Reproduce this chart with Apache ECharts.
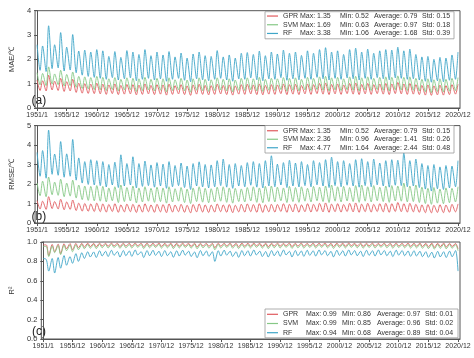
<!DOCTYPE html>
<html><head><meta charset="utf-8">
<script src="https://cdn.jsdelivr.net/npm/echarts@6/dist/echarts.min.js"></script>
<style>html,body{margin:0;padding:0;background:#fff}#c{width:474px;height:358px}</style>
</head><body><div id="c"></div>
<script>
// ---- tick labels (month index from 1951/1) ----
const tickMonths = [0,59,119,179,239,299,359,419,479,539,599,659,719,779,839];
const tickLabels = ['1951/1','1955/12','1960/12','1965/12','1970/12','1975/12','1980/12','1985/12','1990/12','1995/12','2000/12','2005/12','2010/12','2015/12','2020/12'];
const names = ['GPR','SVM','RF'];

// ---- legend statistics ----
const statsA = [['GPR','1.35','0.52','0.79','0.15'],['SVM','1.69','0.63','0.97','0.18'],['RF','3.38','1.06','1.68','0.39']];
const statsB = [['GPR','1.35','0.52','0.79','0.15'],['SVM','2.36','0.96','1.41','0.26'],['RF','4.77','1.64','2.44','0.48']];
const statsC = [['GPR','0.99','0.86','0.97','0.01'],['SVM','0.99','0.85','0.96','0.02'],['RF','0.94','0.68','0.89','0.04']];

// ---- (a) MAE : start value (1951/1), mid-year troughs, year-end peaks ----
const aGprStart = 1.15;
const aGprLow = [0.72,0.70,0.74,0.72,0.68,0.70,0.64,0.61,0.60,0.59,0.58,0.56,0.59,0.55,0.57,0.58,0.54,0.56,0.58,0.55,0.57,0.53,0.56,0.58,0.55,0.52,0.57,0.56,0.54,0.56,0.58,0.55,0.53,0.57,0.56,0.58,0.55,0.54,0.57,0.56,0.59,0.55,0.57,0.55,0.58,0.56,0.59,0.57,0.55,0.58,0.56,0.59,0.57,0.55,0.58,0.56,0.59,0.57,0.55,0.59,0.58,0.56,0.57,0.55,0.53,0.52,0.54,0.53,0.55,0.57];
const aGprHigh = [1.12,1.35,1.10,1.22,1.08,1.18,1.02,1.00,0.98,1.02,0.98,0.95,0.99,0.93,0.97,0.96,0.94,0.99,0.93,0.96,0.95,0.98,0.92,0.96,0.91,0.95,0.98,0.93,0.92,0.98,0.93,0.95,0.91,0.96,0.98,0.95,0.99,0.93,0.96,0.95,0.99,0.96,0.98,0.93,0.99,0.96,1.01,1.03,0.97,0.99,0.95,1.01,1.03,0.97,1.01,0.96,0.99,1.01,0.99,1.05,0.99,1.01,0.96,0.93,0.95,0.91,0.94,0.92,0.96,0.98];
const aSvmStart = 1.45;
const aSvmLow = [0.95,0.92,0.98,0.96,0.90,0.92,0.85,0.80,0.78,0.76,0.75,0.72,0.76,0.70,0.74,0.75,0.68,0.72,0.74,0.70,0.73,0.66,0.72,0.74,0.70,0.65,0.73,0.71,0.68,0.72,0.74,0.70,0.66,0.73,0.72,0.75,0.70,0.68,0.73,0.72,0.76,0.69,0.73,0.70,0.74,0.72,0.76,0.73,0.70,0.74,0.72,0.75,0.73,0.70,0.74,0.72,0.76,0.73,0.70,0.75,0.74,0.72,0.73,0.70,0.67,0.63,0.68,0.66,0.69,0.72];
const aSvmHigh = [1.42,1.69,1.40,1.55,1.38,1.48,1.30,1.28,1.25,1.30,1.26,1.20,1.25,1.18,1.24,1.22,1.20,1.26,1.18,1.22,1.20,1.24,1.16,1.22,1.15,1.20,1.24,1.18,1.16,1.24,1.18,1.20,1.15,1.22,1.24,1.20,1.26,1.18,1.22,1.20,1.25,1.22,1.24,1.18,1.26,1.22,1.28,1.30,1.24,1.26,1.20,1.28,1.30,1.24,1.28,1.22,1.26,1.28,1.26,1.32,1.26,1.28,1.22,1.18,1.20,1.16,1.20,1.18,1.22,1.25];
const aRfStart = 2.60;
const aRfLow = [1.55,1.50,1.62,1.65,1.52,1.56,1.45,1.35,1.30,1.26,1.22,1.18,1.25,1.15,1.20,1.24,1.12,1.18,1.22,1.15,1.20,1.10,1.18,1.22,1.14,1.08,1.20,1.16,1.12,1.18,1.22,1.15,1.10,1.20,1.18,1.24,1.16,1.12,1.20,1.18,1.25,1.14,1.20,1.16,1.22,1.18,1.26,1.20,1.15,1.22,1.18,1.24,1.20,1.15,1.22,1.18,1.25,1.20,1.16,1.24,1.22,1.18,1.20,1.15,1.10,1.06,1.12,1.08,1.14,1.18];
const aRfHigh = [2.55,3.38,2.60,3.10,2.50,3.02,2.34,2.38,2.30,2.40,2.35,2.12,2.32,2.08,2.36,2.30,2.20,2.40,2.15,2.30,2.18,2.32,2.10,2.26,2.05,2.22,2.30,2.15,2.12,2.36,2.10,2.18,2.05,2.25,2.28,2.20,2.34,2.15,2.30,2.22,2.38,2.25,2.30,2.16,2.35,2.25,2.40,2.48,2.30,2.35,2.20,2.40,2.46,2.30,2.42,2.25,2.35,2.40,2.38,2.50,2.35,2.42,2.20,2.10,2.12,2.00,2.08,2.05,2.18,2.30];

// ---- (b) RMSE ----
const bGprStart = 1.15;
const bGprLow = aGprLow;
const bGprHigh = aGprHigh;
const bSvmStart = 2.05;
const bSvmLow = [1.40,1.35,1.45,1.42,1.35,1.38,1.28,1.20,1.16,1.14,1.12,1.08,1.14,1.05,1.10,1.13,1.03,1.08,1.12,1.06,1.10,1.02,1.08,1.12,1.05,1.00,1.10,1.07,1.04,1.08,1.12,1.06,1.02,1.10,1.08,1.13,1.06,1.04,1.10,1.08,1.14,1.05,1.10,1.06,1.12,1.08,1.14,1.10,1.05,1.12,1.08,1.13,1.10,1.06,1.12,1.08,1.14,1.10,1.06,1.13,1.12,1.08,1.10,1.05,1.00,0.96,1.02,0.99,1.04,1.08];
const bSvmHigh = [2.15,2.36,2.10,2.25,2.05,2.20,1.95,1.90,1.88,1.92,1.88,1.80,1.86,1.95,1.82,1.90,1.80,1.86,1.78,1.84,1.80,1.86,1.76,1.82,1.74,1.80,1.86,1.78,1.76,1.84,1.86,1.80,1.78,1.75,1.82,1.86,1.80,1.88,1.90,1.84,1.80,1.88,1.82,1.86,1.78,1.88,1.84,1.90,1.95,1.86,1.88,1.82,1.92,1.95,1.86,1.92,1.84,1.90,1.92,1.90,2.05,1.90,1.95,1.84,1.78,1.82,1.74,1.80,1.78,1.86];
const bRfStart = 3.62;
const bRfLow = [2.40,2.30,2.50,2.45,2.35,2.40,2.20,2.05,1.98,1.95,1.92,1.85,1.95,1.82,1.90,1.95,1.80,1.88,1.92,1.84,1.90,1.78,1.86,1.92,1.82,1.72,1.90,1.85,1.80,1.86,1.92,1.84,1.78,1.90,1.86,1.94,1.84,1.80,1.90,1.86,1.95,1.82,1.90,1.85,1.92,1.86,1.96,1.90,1.82,1.92,1.86,1.94,1.90,1.84,1.92,1.86,1.96,1.90,1.84,1.94,1.92,1.86,1.90,1.82,1.74,1.64,1.76,1.72,1.80,1.86];
const bRfHigh = [3.72,4.77,3.54,4.18,3.55,4.29,3.34,3.15,3.25,3.20,3.15,3.00,3.12,3.50,3.05,3.40,3.05,3.18,2.98,3.10,3.02,3.15,2.95,3.08,2.92,3.05,3.14,3.00,2.98,3.20,3.28,3.00,3.05,2.95,3.10,3.15,3.05,3.20,3.45,3.02,3.10,3.22,3.08,3.15,3.00,3.20,3.10,3.25,3.38,3.15,3.20,3.05,3.25,3.30,3.15,3.28,3.08,3.20,3.25,3.22,3.60,3.20,3.28,3.05,2.95,3.00,2.88,2.95,2.92,3.20];

// ---- (c) R2 : start value, mid-year highs, year-end dips ----
const cGprStart = 0.97;
const cGprHigh = [0.970,0.975,0.978,0.982,0.984,0.985,0.986,0.988,0.986,0.988,0.987,0.989,0.986,0.988,0.987,0.989,0.986,0.988,0.987,0.989,0.986,0.988,0.987,0.989,0.986,0.988,0.987,0.985,0.986,0.988,0.987,0.989,0.986,0.988,0.987,0.989,0.986,0.988,0.987,0.989,0.986,0.988,0.987,0.989,0.986,0.988,0.987,0.989,0.986,0.988,0.987,0.989,0.986,0.988,0.987,0.989,0.986,0.988,0.987,0.989,0.986,0.988,0.987,0.989,0.986,0.988,0.987,0.989,0.986,0.985];
const cGprDip = [0.860,0.900,0.880,0.930,0.920,0.940,0.948,0.952,0.950,0.958,0.955,0.960,0.952,0.958,0.956,0.962,0.950,0.958,0.960,0.955,0.958,0.950,0.956,0.960,0.954,0.948,0.958,0.955,0.940,0.956,0.960,0.954,0.950,0.958,0.956,0.962,0.954,0.950,0.958,0.956,0.962,0.952,0.958,0.955,0.960,0.956,0.962,0.958,0.952,0.960,0.956,0.962,0.958,0.954,0.960,0.956,0.962,0.958,0.954,0.960,0.958,0.955,0.957,0.953,0.950,0.945,0.952,0.948,0.953,0.930];
const cSvmStart = 0.955;
const cSvmHigh = [0.955,0.960,0.965,0.968,0.970,0.972,0.974,0.975,0.974,0.976,0.975,0.977,0.974,0.976,0.975,0.977,0.974,0.976,0.975,0.977,0.974,0.976,0.975,0.977,0.974,0.976,0.975,0.973,0.974,0.976,0.975,0.977,0.974,0.976,0.975,0.977,0.974,0.976,0.975,0.977,0.974,0.976,0.975,0.977,0.974,0.976,0.975,0.977,0.974,0.976,0.975,0.977,0.974,0.976,0.975,0.977,0.974,0.976,0.975,0.977,0.974,0.976,0.975,0.977,0.974,0.976,0.975,0.977,0.974,0.972];
const cSvmDip = [0.850,0.890,0.870,0.910,0.900,0.920,0.930,0.935,0.932,0.940,0.938,0.943,0.935,0.940,0.938,0.945,0.932,0.940,0.943,0.937,0.940,0.932,0.938,0.943,0.936,0.930,0.940,0.937,0.920,0.938,0.943,0.936,0.932,0.940,0.938,0.945,0.936,0.932,0.940,0.938,0.945,0.934,0.940,0.937,0.943,0.938,0.945,0.940,0.934,0.943,0.938,0.945,0.940,0.936,0.943,0.938,0.945,0.940,0.936,0.943,0.940,0.937,0.939,0.935,0.932,0.927,0.934,0.930,0.935,0.910];
const cRfStart = 0.83;
const cRfHigh = [0.820,0.830,0.840,0.860,0.850,0.880,0.890,0.900,0.898,0.910,0.905,0.915,0.902,0.912,0.908,0.918,0.900,0.912,0.915,0.905,0.912,0.900,0.910,0.916,0.906,0.898,0.912,0.908,0.900,0.910,0.916,0.906,0.900,0.912,0.910,0.918,0.906,0.902,0.912,0.908,0.918,0.904,0.912,0.908,0.915,0.910,0.918,0.912,0.904,0.915,0.910,0.918,0.912,0.906,0.915,0.910,0.918,0.912,0.906,0.916,0.912,0.908,0.910,0.905,0.900,0.895,0.904,0.900,0.906,0.912];
const cRfDip = [0.700,0.680,0.730,0.760,0.780,0.800,0.830,0.845,0.840,0.855,0.850,0.862,0.845,0.858,0.852,0.866,0.840,0.858,0.862,0.850,0.858,0.842,0.855,0.864,0.850,0.838,0.858,0.852,0.800,0.855,0.864,0.850,0.842,0.858,0.855,0.866,0.850,0.845,0.858,0.852,0.866,0.846,0.858,0.852,0.862,0.855,0.866,0.858,0.846,0.862,0.855,0.866,0.858,0.850,0.862,0.855,0.866,0.858,0.850,0.864,0.858,0.852,0.855,0.848,0.842,0.835,0.846,0.840,0.848,0.700];

const colors = {GPR:'#e05a5e', SVM:'#86c886', RF:'#3fa6c8'};
const FONT = 'Liberation Sans, Arial, Helvetica, sans-serif';

// build monthly-indexed points: start at month 0, then mid-year (month 6) and year-end (month 11)
function build(start, mid, end){
  const d = [[0, start]];
  for (let y = 0; y < mid.length; y++){
    d.push([y*12+6, mid[y]]);
    d.push([y*12+11, end[y]]);
  }
  return d;
}

const grids = [
  {left:29, right:14, top:10.7, height:97.3},
  {left:29, right:14, top:125.6, height:97.4},
  {left:29, right:14, top:242, height:97}
];
const yCfg = [
  {min:0, max:4, interval:1, name:'MAE/℃', fmt:v=>String(v)},
  {min:0, max:5, interval:1, name:'RMSE/℃', fmt:v=>String(v)},
  {min:0, max:1, interval:0.2, name:'R²', fmt:v=>v.toFixed(1)}
];

const xAxes = grids.map((g,i)=>({
  type:'value', gridIndex:i, min:-4, max:843,
  axisLine:{show:true, lineStyle:{color:'#555', width:1}},
  axisTick:{show:true, customValues:tickMonths, length:3, lineStyle:{color:'#555'}},
  axisLabel:{customValues:tickMonths, margin:4, fontSize:7, color:'#333', fontFamily:FONT,
    formatter:v=>{const k=tickMonths.indexOf(Math.round(v)); return k>=0?tickLabels[k]:'';}},
  splitLine:{show:false}
}));
const yAxes = yCfg.map((c,i)=>({
  type:'value', gridIndex:i, min:c.min, max:c.max, interval:c.interval,
  name:c.name, nameLocation:'middle', nameGap:16, nameRotate:90,
  nameTextStyle:{fontSize:7.5, color:'#333', fontFamily:FONT},
  axisLine:{show:true, lineStyle:{color:'#555', width:1}},
  axisTick:{show:true, length:3, lineStyle:{color:'#555'}},
  axisLabel:{fontSize:7.5, color:'#333', margin:4, fontFamily:FONT, formatter:c.fmt},
  splitLine:{show:false}
}));

const panelData = [
  [build(aGprStart,aGprLow,aGprHigh), build(aSvmStart,aSvmLow,aSvmHigh), build(aRfStart,aRfLow,aRfHigh)],
  [build(bGprStart,bGprLow,bGprHigh), build(bSvmStart,bSvmLow,bSvmHigh), build(bRfStart,bRfLow,bRfHigh)],
  [build(cGprStart,cGprHigh,cGprDip), build(cSvmStart,cSvmHigh,cSvmDip), build(cRfStart,cRfHigh,cRfDip)]
];
const series = [];
panelData.forEach((arr,p)=>{
  arr.forEach((d,k)=>{
    series.push({type:'line', name:names[k], xAxisIndex:p, yAxisIndex:p, data:d,
      showSymbol:false, smooth:0.3, lineStyle:{width:0.9, color:colors[names[k]]},
      itemStyle:{color:colors[names[k]]}, emphasis:{disabled:true}});
  });
});

function legendFor(stats, widths, pos, lh){
  const st = w=>({width:w, fontSize:7, lineHeight:lh, fontFamily:FONT, color:'#333'});
  return {
    left:pos.left, top:pos.top, orient:'vertical', data:names, icon:'rect',
    itemWidth:11, itemHeight:1.2, itemGap:0, padding:pos.padding,
    backgroundColor:'#fff', borderColor:'#999', borderWidth:0.8, selectedMode:false,
    formatter:name=>{
      const s = stats[names.indexOf(name)];
      return '{n|'+s[0]+'}{mx|Max: '+s[1]+'}{mn|Min: '+s[2]+'}{av|Average: '+s[3]+'}{sd|Std: '+s[4]+'}';
    },
    textStyle:{fontSize:7, color:'#333', fontFamily:FONT, lineHeight:lh,
      rich:{n:st(widths[0]), mx:st(widths[1]), mn:st(widths[2]), av:st(widths[3]), sd:st(widths[4])}}
  };
}

const chart = echarts.init(document.getElementById('c'), null, {renderer:'canvas'});
chart.setOption({
  animation:false,
  grid: grids.map(g=>Object.assign({show:true, borderColor:'#555', borderWidth:1, backgroundColor:'transparent'}, g)),
  xAxis:xAxes, yAxis:yAxes, series:series,
  legend:[
    legendFor(statsA,[17,40,34,48,30],{left:265, top:11.7, padding:[0,2,1,2]},8.7),
    legendFor(statsB,[17,40,34,48,30],{left:265, top:125.5, padding:[1,2,1,2]},8.5),
    legendFor(statsC,[23,36,35,48,30],{left:265, top:309, padding:[0.7,3,0.5,2]},9.2)
  ],
  graphic:[
    {type:'text', left:31.5, top:95, style:{text:'(a)', fontSize:12, fill:'#222', fontFamily:FONT}},
    {type:'text', left:31.5, top:210.5, style:{text:'(b)', fontSize:12, fill:'#222', fontFamily:FONT}},
    {type:'text', left:32, top:326, style:{text:'(c)', fontSize:12, fill:'#222', fontFamily:FONT}}
  ]
});
</script></body></html>
